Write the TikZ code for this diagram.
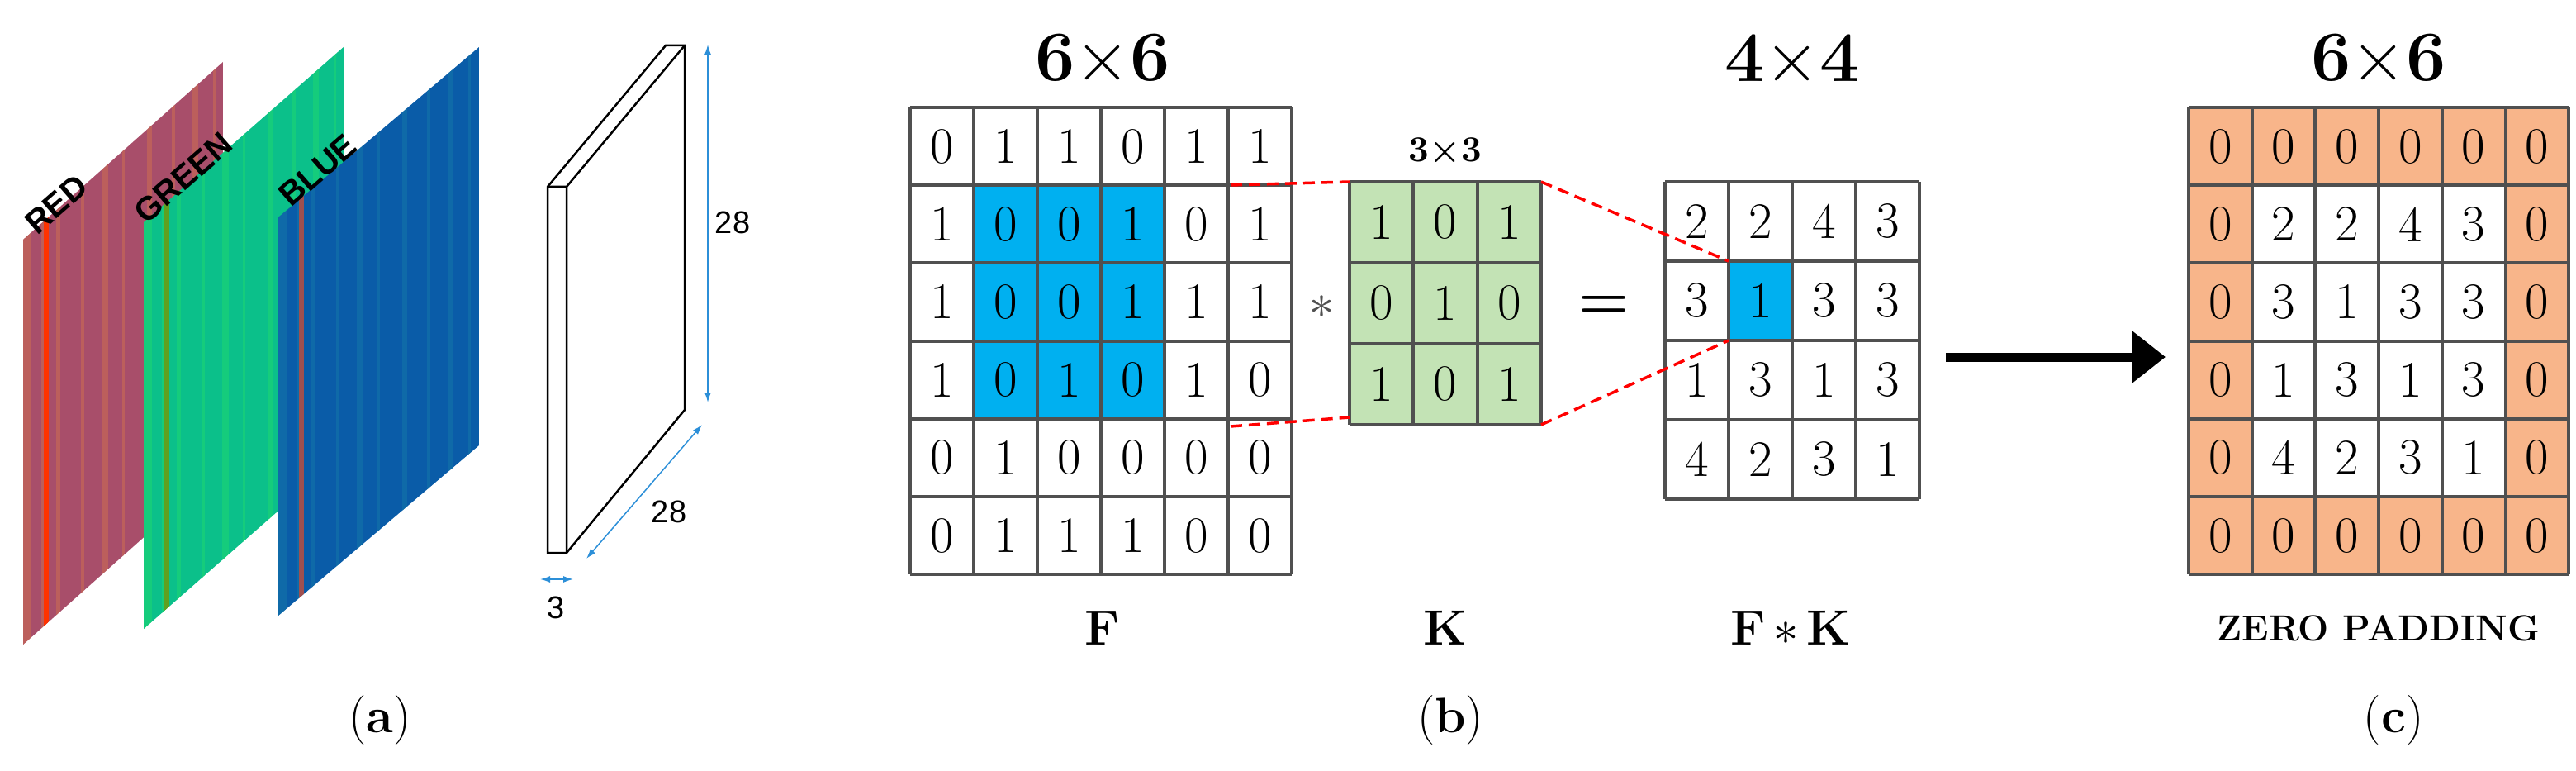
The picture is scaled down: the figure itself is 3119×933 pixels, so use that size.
\documentclass[tikz,border=0pt]{standalone}
\usepackage{unicode-math}
\setmathfont{Latin Modern Math}
\usepackage{fontspec}
\newfontfamily\sansf{Liberation Sans}
\usetikzlibrary{arrows.meta}
\definecolor{cblue}{HTML}{00B0F0}
\definecolor{cgreen}{HTML}{C3E3B5}
\definecolor{corange}{HTML}{F8B58A}
\definecolor{gridc}{HTML}{505050}
\definecolor{dimc}{HTML}{2C8FD8}
\definecolor{pr}{HTML}{A84E6A}
\definecolor{pro}{HTML}{D07050}
\definecolor{prs}{HTML}{FF3300}
\definecolor{pg}{HTML}{0BC08A}
\definecolor{pgo}{HTML}{20D870}
\definecolor{pgs}{HTML}{60A020}
\definecolor{pb}{HTML}{0A5CA8}
\definecolor{pbo}{HTML}{1478A8}
\definecolor{pbs}{HTML}{A05050}
\tikzset{
 num/.style={font=\fontsize{62}{62}\selectfont},
 title/.style={font=\fontsize{86}{86}\selectfont\bfseries},
 lab/.style={font=\fontsize{60}{60}\selectfont\bfseries},
 sub/.style={font=\fontsize{60}{60}\selectfont},
 dim/.style={font=\sansf\fontsize{38}{38}\selectfont},
 chan/.style={font=\sansf\fontsize{40}{40}\selectfont\bfseries,inner sep=0pt},
 gridl/.style={draw=gridc,line width=4pt},
 reddash/.style={draw=red,line width=3.5pt,dash pattern=on 14pt off 8pt},
 dimarrow/.style={draw=dimc,line width=1.5pt,{Latex[length=12pt,width=8pt]}-{Latex[length=12pt,width=8pt]}}
}
\begin{document}
\begin{tikzpicture}[x=1pt,y=-1pt]
\useasboundingbox (0,0) rectangle (3119,933);
% ---------- (a) planes
\newcommand{\myplane}[8]{% x0 ytop ybot x1 ytop1 base stripe1 stripe2
 \begin{scope}
 \clip (#1,#2) -- (#4,#5) -- (#4,#5+#3-#2) -- (#1,#3) -- cycle;
 \fill[#6] (#1,0) rectangle (#4,933);
 \foreach \d/\w in {0/10,22/3,40/5,70/4,95/8,120/3,150/6,180/4,205/7,230/3}{
   \fill[#7,opacity=.5] (#1+\d,0) rectangle (#1+\d+\w,933);}
 \fill[#8] (#1+25,0) rectangle (#1+31,933);
 \end{scope}}
\myplane{28}{290}{780}{270}{75}{pr}{pro}{prs}
\myplane{174}{269}{761}{417}{56}{pg}{pgo}{pgs}
\myplane{337}{263}{745}{580}{57}{pb}{pbo}{pbs}
\node[chan,rotate=41] (red) at (68,247) {RED};
\node[chan,rotate=41] (green) at (222,215) {GREEN};
\node[chan,rotate=41] (blue) at (385,206) {BLUE};
% thin box
\draw[line width=2.5pt,fill=white] (663,226) -- (806,55) -- (829,55) -- (829,496) -- (686,669) -- (663,669) -- cycle;
\draw[line width=2.5pt] (663,226) -- (686,226) -- (829,55) (686,226) -- (686,669);
\coordinate (v1) at (857,54); \coordinate (v2) at (857,487);
\draw[dimarrow] (v1) -- (v2);
\node[dim] (d1) at (887,269) {28};
\coordinate (g1) at (710,676); \coordinate (g2) at (850,514);
\draw[dimarrow] (g1) -- (g2);
\node[dim] (d2) at (810,619) {28};
\coordinate (h1) at (654,701); \coordinate (h2) at (694,701);
\draw[dimarrow] (h1) -- (h2);
\node[dim] (d3) at (673,735) {3};
\node[sub] (la) at (460,872) {(\textbf{a})};
% ---------- (b) F
\def\cw{77}\def\ch{94.2}
\fill[cblue] (1102+\cw,130+\ch) rectangle (1102+4*\cw,130+4*\ch);
\foreach \row [count=\r from 0] in {{0,1,1,0,1,1},{1,0,0,1,0,1},{1,0,0,1,1,1},{1,0,1,0,1,0},{0,1,0,0,0,0},{0,1,1,1,0,0}}{
  \foreach \v [count=\c from 0] in \row {
    \node[num] (f\r\c) at (1102+\c*\cw+\cw/2,130+\r*\ch+\ch/2) {\v};}}
\foreach \i in {0,...,6}{
  \draw[gridl] (1102+\i*\cw,130) -- (1102+\i*\cw,695);
  \draw[gridl] (1102,130+\i*\ch) -- (1564,130+\i*\ch);}
\node[title] (t1) at (1335,70) {6$\times$6};
\node[lab] (lf) at (1335,760) {F};
% K
\def\kw{77.3}\def\kh{98}
\fill[cgreen] (1634,220) rectangle (1866,514);
\foreach \row [count=\r from 0] in {{1,0,1},{0,1,0},{1,0,1}}{
  \foreach \v [count=\c from 0] in \row {
    \node[num] (k\r\c) at (1634+\c*\kw+\kw/2,220+\r*\kh+\kh/2) {\v};}}
\foreach \i in {0,...,3}{
  \draw[gridl] (1634+\i*\kw,220) -- (1634+\i*\kw,514);
  \draw[gridl] (1634,220+\i*\kh) -- (1866,220+\i*\kh);}
\node[font=\fontsize{44}{44}\selectfont\bfseries] (kt) at (1750,182) {3×3};
\node[font=\fontsize{60}{60}\selectfont,text=gridc] (star) at (1600,372) {$*$};
\node[lab] (lk) at (1750,760) {K};
% result
\def\rw{77}\def\rh{96}
\fill[cblue] (2016+\rw,220+\rh) rectangle (2016+2*\rw,220+2*\rh);
\foreach \row [count=\r from 0] in {{2,2,4,3},{3,1,3,3},{1,3,1,3},{4,2,3,1}}{
  \foreach \v [count=\c from 0] in \row {
    \node[num] (r\r\c) at (2016+\c*\rw+\rw/2,220+\r*\rh+\rh/2) {\v};}}
\foreach \i in {0,...,4}{
  \draw[gridl] (2016+\i*\rw,220) -- (2016+\i*\rw,604);
  \draw[gridl] (2016,220+\i*\rh) -- (2324,220+\i*\rh);}
\node[font=\fontsize{70}{70}\selectfont\bfseries] (eq) at (1942,372) {=};
\node[title] (t2) at (2170,70) {4$\times$4};
\node[lab] (lfk) at (2168,760) {F$\,*\,$K};
\node[sub] (lb) at (1756,872) {(\textbf{b})};
% dashed
\coordinate (da1) at (1490,224); \coordinate (da2) at (1490,516);
\coordinate (ka) at (1634,220); \coordinate (kb) at (1634,505);
\coordinate (kc) at (1866,220); \coordinate (kd) at (1866,514);
\coordinate (ra) at (2093,316); \coordinate (rb) at (2093,412);
\draw[reddash] (da1) -- (ka);
\draw[reddash] (da2) -- (kb);
\draw[reddash] (kc) -- (ra);
\draw[reddash] (kd) -- (rb);
% arrow
\coordinate (a1) at (2356,432); \coordinate (a2) at (2622,432);
\draw[line width=11pt,-{Triangle[length=40pt,width=60pt]}] (a1) -- (a2);
% (c)
\def\pw{76.7}\def\ph{94.2}
\fill[corange] (2650,130) rectangle (3110,695);
\fill[white] (2650+\pw,130+\ph) rectangle (3110-\pw,695-\ph);
\foreach \row [count=\r from 0] in {{0,0,0,0,0,0},{0,2,2,4,3,0},{0,3,1,3,3,0},{0,1,3,1,3,0},{0,4,2,3,1,0},{0,0,0,0,0,0}}{
  \foreach \v [count=\c from 0] in \row {
    \node[num] (p\r\c) at (2650+\c*\pw+\pw/2,130+\r*\ph+\ph/2) {\v};}}
\foreach \i in {0,...,6}{
  \draw[gridl] (2650+\i*\pw,130) -- (2650+\i*\pw,695);
  \draw[gridl] (2650,130+\i*\ph) -- (3110,130+\i*\ph);}
\node[title] (t3) at (2880,70) {6$\times$6};
\node[font=\fontsize{44}{44}\selectfont\bfseries] (zp) at (2880,760) {ZERO PADDING};
\node[sub] (lc) at (2898,872) {(\textbf{c})};
\end{tikzpicture}
\end{document}
